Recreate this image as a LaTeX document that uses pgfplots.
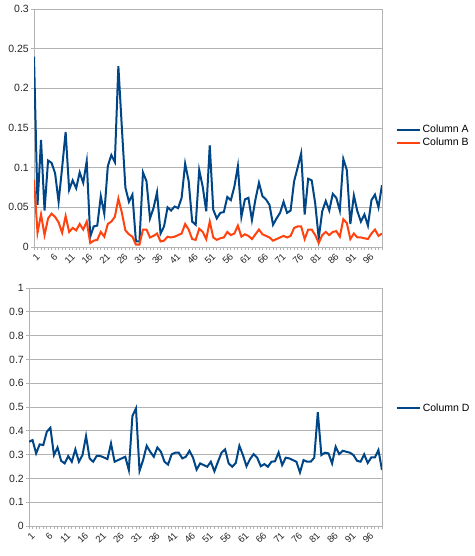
\documentclass[border=0pt]{standalone}
\usepackage{pgfplots}
\usepackage{pgfplotstable}
\pgfplotsset{compat=1.18}
\usepackage{fontspec}
\setmainfont{Liberation Sans}
\definecolor{cA}{HTML}{004586}
\definecolor{cB}{HTML}{FF420E}
\definecolor{gridc}{HTML}{B3B3B3}
\pgfplotstableread{
x A B D
1 0.240 0.085 0.354
2 0.053 0.018 0.361
3 0.135 0.041 0.305
4 0.046 0.015 0.343
5 0.109 0.036 0.340
6 0.106 0.042 0.396
7 0.093 0.038 0.413
8 0.057 0.031 0.298
9 0.100 0.018 0.330
10 0.145 0.039 0.274
11 0.072 0.019 0.263
12 0.084 0.024 0.294
13 0.074 0.021 0.270
14 0.094 0.029 0.322
15 0.081 0.022 0.270
16 0.108 0.032 0.298
17 0.013 0.005 0.378
18 0.026 0.008 0.284
19 0.027 0.009 0.270
20 0.064 0.019 0.295
21 0.042 0.013 0.294
22 0.102 0.029 0.288
23 0.116 0.032 0.281
24 0.107 0.038 0.347
25 0.228 0.061 0.270
26 0.150 0.043 0.277
27 0.075 0.021 0.284
28 0.057 0.016 0.291
29 0.066 0.013 0.235
30 0.007 0.003 0.462
31 0.007 0.003 0.494
32 0.094 0.022 0.232
33 0.083 0.022 0.277
34 0.036 0.012 0.337
35 0.049 0.014 0.312
36 0.069 0.017 0.291
37 0.017 0.007 0.330
38 0.026 0.008 0.312
39 0.050 0.013 0.270
40 0.046 0.012 0.258
41 0.051 0.013 0.301
42 0.049 0.015 0.308
43 0.062 0.017 0.308
44 0.105 0.029 0.284
45 0.083 0.022 0.291
46 0.032 0.010 0.316
47 0.028 0.009 0.287
48 0.097 0.023 0.237
49 0.076 0.019 0.263
50 0.045 0.010 0.256
51 0.128 0.032 0.249
52 0.047 0.012 0.270
53 0.036 0.009 0.230
54 0.043 0.011 0.270
55 0.044 0.012 0.308
56 0.063 0.019 0.322
57 0.059 0.015 0.263
58 0.076 0.017 0.249
59 0.102 0.027 0.265
60 0.038 0.013 0.337
61 0.060 0.016 0.298
62 0.062 0.014 0.251
63 0.034 0.010 0.281
64 0.060 0.016 0.302
65 0.081 0.022 0.287
66 0.064 0.016 0.251
67 0.060 0.014 0.260
68 0.053 0.012 0.249
69 0.028 0.008 0.270
70 0.036 0.010 0.272
71 0.043 0.012 0.309
72 0.057 0.014 0.256
73 0.043 0.012 0.287
74 0.046 0.014 0.284
75 0.083 0.024 0.277
76 0.100 0.026 0.270
77 0.118 0.026 0.225
78 0.041 0.010 0.277
79 0.086 0.022 0.270
80 0.084 0.022 0.270
81 0.055 0.015 0.287
82 0.011 0.005 0.478
83 0.045 0.015 0.298
84 0.058 0.019 0.308
85 0.046 0.015 0.305
86 0.067 0.019 0.263
87 0.062 0.020 0.333
88 0.046 0.013 0.302
89 0.111 0.035 0.316
90 0.097 0.030 0.312
91 0.029 0.010 0.308
92 0.065 0.017 0.298
93 0.045 0.012 0.274
94 0.032 0.012 0.270
95 0.041 0.011 0.301
96 0.027 0.010 0.265
97 0.059 0.017 0.288
98 0.066 0.022 0.288
99 0.050 0.014 0.319
100 0.078 0.017 0.235
}\datatable
\pgfplotsset{
  mystyle/.style={
    scale only axis,
    xmin=1, xmax=100,
    xtick={1,6,...,96},
    minor xtick={1,...,100},
    tick align=outside,
    major tick length=3pt,
    minor tick length=3pt,
    tick style={color=gridc, line width=0.8pt},
    axis line style={gridc, line width=0.8pt},
    ymajorgrids,
    grid style={gridc, line width=0.8pt},
    xtick pos=bottom, ytick pos=left,
    ticklabel style={font=\fontsize{10.5}{12}\selectfont, text=black!85},
    xticklabel style={rotate=45, anchor=north east, inner sep=0.5pt, yshift=-2.5pt, font=\fontsize{9.5}{11}\selectfont},
    yticklabel style={inner sep=2pt},
    /pgf/number format/assume math mode=true,
    /pgf/number format/.cd, fixed, precision=2,
    /pgfplots/.cd,
    legend cell align=left,
    legend style={draw=none, fill=none, font=\fontsize{10.5}{12}\selectfont, anchor=west,
      /tikz/every even column/.append style={column sep=2pt}},
    legend image code/.code={\draw[##1] (0pt,0pt) -- (23pt,0pt);},
  }
}
\begin{document}
\begin{tikzpicture}
\useasboundingbox (0pt,0pt) rectangle (474pt,556pt);
\begin{axis}[mystyle,
  at={(34pt,309pt)}, anchor=south west,
  width=348pt, height=238pt,
  ymin=0, ymax=0.3, ytick={0,0.05,...,0.31},
  legend style={at={(1.03,0.466)}},
]
\addplot[cA, line width=2pt] table[x=x, y=A] {\datatable};
\addlegendentry{Column A}
\addplot[cB, line width=2pt] table[x=x, y=B] {\datatable};
\addlegendentry{Column B}
\end{axis}
\begin{axis}[mystyle,
  at={(29pt,30pt)}, anchor=south west,
  width=353pt, height=238pt,
  ymin=0, ymax=1, ytick={0,0.1,...,1.01},
  legend style={at={(1.03,0.496)}},
]
\addplot[cA, line width=2pt] table[x=x, y=D] {\datatable};
\addlegendentry{Column D}
\end{axis}
\end{tikzpicture}
\end{document}
